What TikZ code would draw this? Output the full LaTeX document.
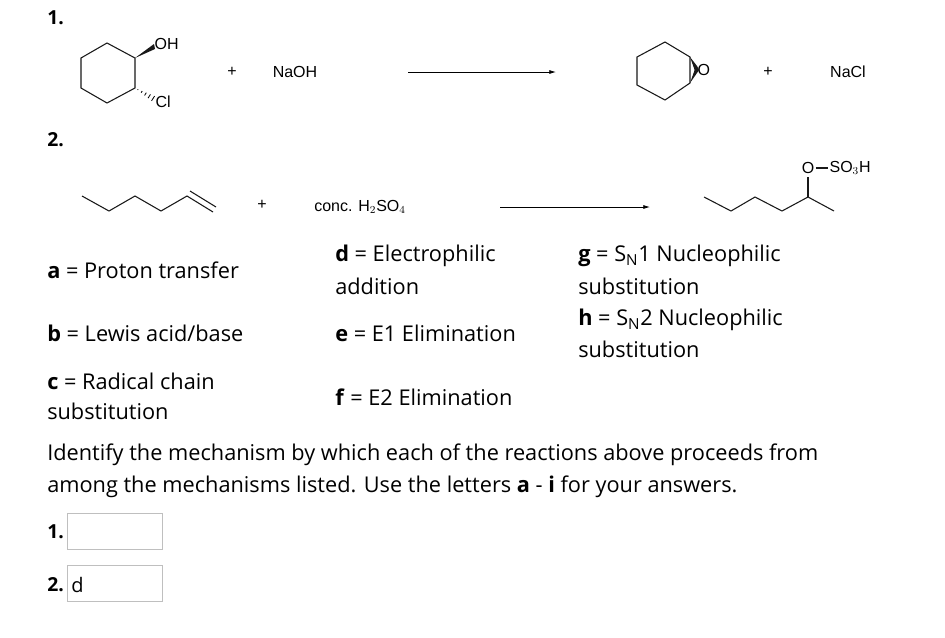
\documentclass[tikz,border=0pt]{standalone}
\usepackage{fontspec}
\setmainfont{Open Sans}
\newfontfamily\chem{Liberation Sans}
\usetikzlibrary{arrows.meta,calc}
\begin{document}
\begin{tikzpicture}[x=0.75pt,y=-0.75pt,
  bond/.style={line width=0.8pt,gray!20!black},
  ch/.style={font=\chem\fontsize{12}{13}\selectfont,inner sep=1pt},
  txt/.style={font=\fontsize{16.3}{19}\selectfont,anchor=west,inner sep=0pt},
  num/.style={font=\bfseries\fontsize{14.5}{16}\selectfont,anchor=west,inner sep=0pt},
  rarrow/.style={line width=0.6pt,-{Latex[length=5pt,width=3pt]}},
  ansbox/.style={draw=gray!50,line width=0.7pt,minimum width=95*0.75pt,minimum height=36*0.75pt,anchor=north west,inner sep=0pt}]
\useasboundingbox (0,0) rectangle (945,637);
\fill[white] (0,0) rectangle (945,637);
% reaction 1
\node[num] (n1) at (47,18) {1.};
\draw[bond] (107,43)--(135,58)--(135,88)--(107,103)--(81,88)--(81,58)--cycle;
\node[ch,anchor=west] (oh) at (153,44) {OH};
\fill[gray!20!black] (135,58)--(154,44)--(155,49)--cycle;
\node[ch,anchor=west] (cl) at (154,102) {Cl};
\foreach \t in {0.15,0.35,0.55,0.75,0.95}
  \draw[line width=0.6pt] ($(135,88)!\t!(154,99)+(-1.6*\t, 2.5*\t)$)--($(135,88)!\t!(154,99)+(1.6*\t,-2.5*\t)$);
\node[ch] (p1) at (232,72) {+};
\node[ch] (naoh) at (295,72) {NaOH};
\coordinate (a1) at (408,72); \coordinate (a2) at (556,72);
\draw[rarrow] (a1)--(a2);
\draw[bond] (665,42)--(690,57)--(690,83)--(665,100)--(637,85)--(637,57)--cycle;
\node[ch,anchor=west] (ox) at (696,70) {O};
\fill[gray!20!black] (690,57)--(697,66)--(699,70)--(695,71)--cycle;
\fill[gray!20!black] (690,83)--(697,73)--(699,70)--(695,69)--cycle;
\node[ch] (p2) at (768,72) {+};
\node[ch] (nacl) at (848,72) {NaCl};
% reaction 2
\node[num] (n2) at (47,140) {2.};
\draw[bond] (82,196)--(109,211)--(135,196)--(161,211)--(187,196)--(213,212);
\draw[bond] (190,191)--(216,207);
\node[ch] (p3) at (262,205) {+};
\node[ch] (acid) at (360,207) {conc. H$_2$SO$_4$};
\coordinate (b1) at (500,207); \coordinate (b2) at (650,207);
\draw[rarrow] (b1)--(b2);
\draw[bond] (704,197)--(731,211)--(755,197)--(782,211)--(808,197)--(834,211);
\draw[bond] (808,197)--(808,177);
\node[ch] (o2) at (808,168) {O};
\node[ch,anchor=west] (so3h) at (828,168) {SO$_3$H};
\draw[bond] (o2)--(so3h);
% options
\node[txt] (a) at (47,270) {\textbf{a} = Proton transfer};
\node[txt] (b) at (47,333) {\textbf{b} = Lewis acid/base};
\node[txt] (c) at (47,381) {\textbf{c} = Radical chain};
\node[txt] (c2) at (47,411) {substitution};
\node[txt] (d) at (335,256) {\textbf{d} = Electrophilic};
\node[txt] (d2) at (335,286) {addition};
\node[txt] (e) at (335,333) {\textbf{e} = E1 Elimination};
\node[txt] (f) at (335,397) {\textbf{f} = E2 Elimination};
\node[txt] (g) at (578,256) {\textbf{g} = S$_{\mathrm{N}}$1 Nucleophilic};
\node[txt] (g2) at (578,286) {substitution};
\node[txt] (h) at (578,320) {\textbf{h} = S$_{\mathrm{N}}$2 Nucleophilic};
\node[txt] (h2) at (578,349) {substitution};
\node[txt] (q1) at (47,455) {Identify the mechanism by which each of the reactions above proceeds from};
\node[txt] (q2) at (47,487) {among the mechanisms listed. Use the letters \textbf{a} - \textbf{i} for your answers.};
\node[num] (ans1) at (47,532) {1.};
\node[ansbox] (box1) at (67,513) {};
\node[num] (ans2) at (47,585) {2.};
\node[ansbox] (box2) at (67,565) {};
\node[anchor=west,inner sep=0pt,font=\fontsize{15}{17}\selectfont] (ansd) at (71,585) {d};
\end{tikzpicture}
\end{document}
